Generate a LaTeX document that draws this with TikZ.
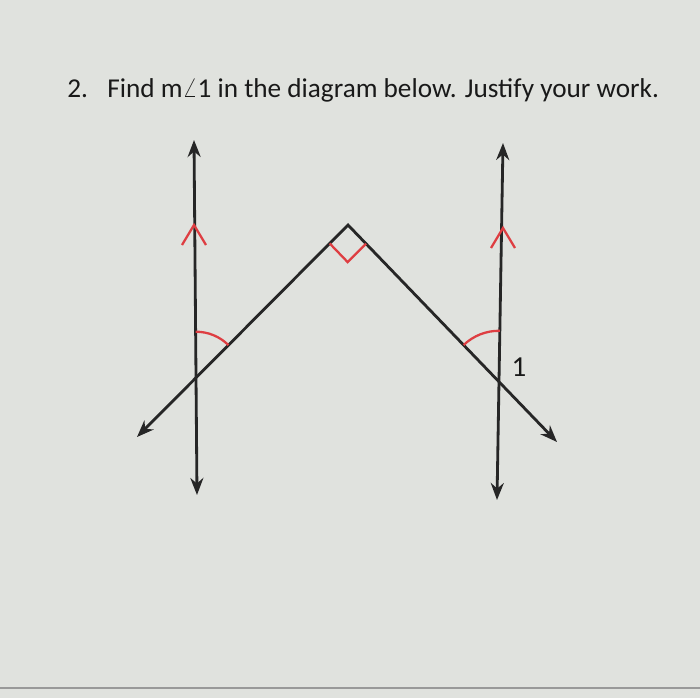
\documentclass[tikz,border=0pt]{standalone}
\usepackage{fontspec}
\setmainfont{Carlito}
\usepackage{tikz}
\usetikzlibrary{arrows.meta,angles,intersections}
\definecolor{paper}{RGB}{224,226,222}
\definecolor{markred}{RGB}{222,62,66}
\tikzset{
  line/.style={line width=1.6pt, black!85, arrows={Stealth[length=0.34cm,width=0.26cm]-Stealth[length=0.34cm,width=0.26cm]}},
  redmark/.style={line width=1.3pt, draw=markred},
  label/.style={font=\fontsize{15.5}{19}\selectfont, text=black!90, inner sep=0pt}
}

\begin{document}
\begin{tikzpicture}[x=0.02cm, y=0.02cm]
			%%%%% START %%%%%
			
			\fill[paper] (0,0) rectangle (700,698);
			\useasboundingbox (0,0) rectangle (700,698);
			\draw[black!40, line width=1pt] (0,10) -- (700,10);
			
			\node[label, anchor=base west] (num) at (67,601) {2.};
			\node[label, anchor=base west] (task) at (107,601) {Find m$\angle$1 in the diagram below. Justify your work.};
			
			\coordinate (LT) at (194,558);
			\coordinate (LB) at (197,203);
			\coordinate (RT) at (503,555);
			\coordinate (RB) at (497,198);
			\coordinate (A) at (348,473);
			\coordinate (P) at (137,261);
			\coordinate (Q) at (557,256);
			
			\draw[line, name path=left] (LB) -- (LT);
			\draw[line, name path=right] (RB) -- (RT);
			\draw[line, name path=legs] (P) -- (A) -- (Q);
			
			\path[name intersections={of=left and legs, by=X1}];
			\path[name intersections={of=right and legs, by=X2}];
			
			% parallel marks
			\draw[redmark] (182,453) -- (194,473) -- (206,453);
			\draw[redmark] (491,450) -- (503,470) -- (515,450);
			
			% angle marks
			\pic[redmark, draw, angle radius=0.92cm] {angle = A--X1--LT};
			\pic[redmark, draw, angle radius=1.02cm] {angle = RT--X2--A};
			\pic[redmark, draw, angle radius=0.52cm] {right angle = Q--A--P};
			
			\node[label, font=\fontsize{16.5}{19}\selectfont] (one) at (519,331) {1};
			
			%%%%% END %%%%%
\end{tikzpicture}
\end{document}
